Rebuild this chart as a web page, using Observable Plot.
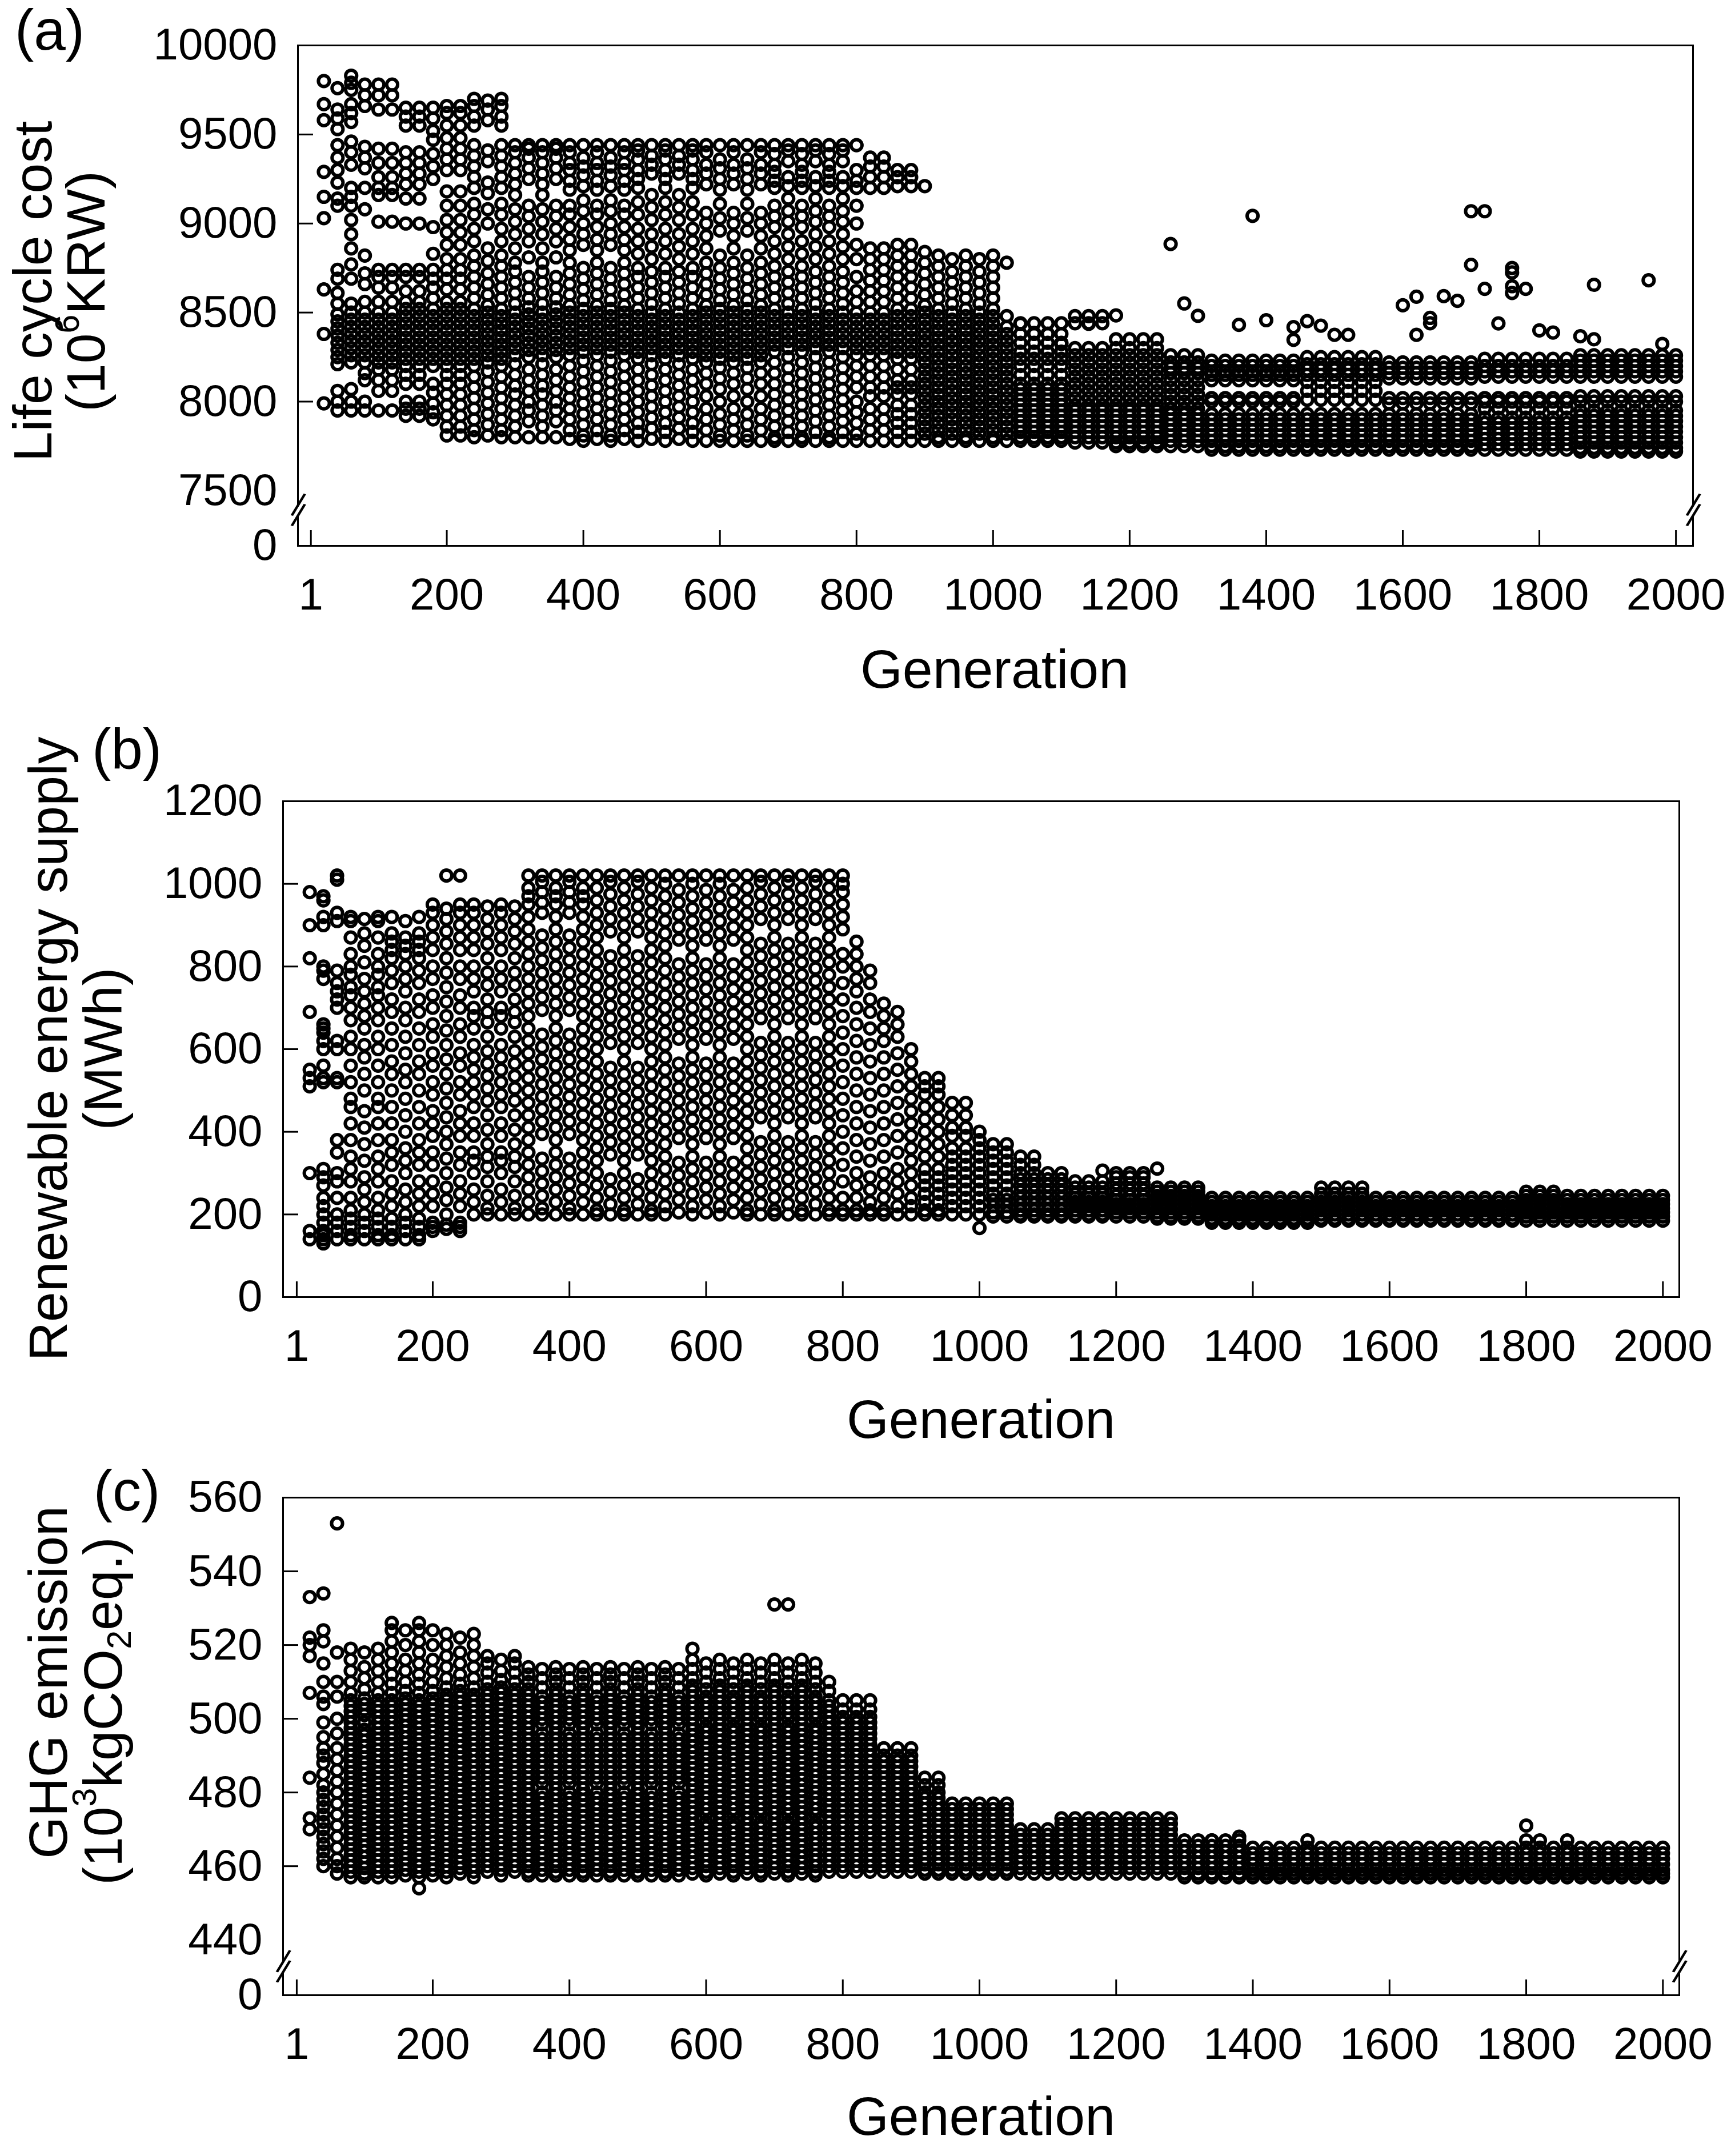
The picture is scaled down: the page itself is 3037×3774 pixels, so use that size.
<!DOCTYPE html>
<html>
<head>
<meta charset="utf-8">
<script src="https://cdn.jsdelivr.net/npm/d3@7"></script>
<script src="https://cdn.jsdelivr.net/npm/@observablehq/plot@0.6"></script>
<style>
  html, body { margin: 0; padding: 0; background: #fff; }
  #wrap { position: relative; width: 3037px; height: 3774px; background: #fff; font-family: 'Liberation Sans', Arial, sans-serif; color: #000; }
  .abs { position: absolute; white-space: nowrap; line-height: 1; }
  .c { transform: translate(-50%, -50%); }
  .rot { transform: translate(-50%, -50%) rotate(-90deg); }
  sup, sub { font-size: 62%; line-height: 0; }
  sup { vertical-align: 0.75em; }
  sub { vertical-align: -0.28em; }
  .svgbox { position: absolute; left: 0; }
</style>
</head>
<body>
<div id="wrap"></div>
<script>
// ---------------- DATA ----------------
const generations = [20,40,60,80,100,120,140,160,180,200,220,240,260,280,300,320,340,360,380,400,
  420,440,460,480,500,520,540,560,580,600,620,640,660,680,700,720,740,760,780,800,
  820,840,860,880,900,920,940,960,980,1000,1020,1040,1060,1080,1100,1120,1140,1160,1180,1200,
  1220,1240,1260,1280,1300,1320,1340,1360,1380,1400,1420,1440,1460,1480,1500,1520,1540,1560,1580,1600,
  1620,1640,1660,1680,1700,1720,1740,1760,1780,1800,1820,1840,1860,1880,1900,1920,1940,1960,1980,2000];

const xTickValues = [1,200,400,600,800,1000,1200,1400,1600,1800,2000];

// Blocks: [first gen, last gen, values] or [[explicit gens], values]
// (a) Life cycle cost
const lccBlocks = [
  [20,20,"9800 9670 9580 9290 9150 9030 8630 8380 7990"],
  [40,40,"9760 9640 9590 9530 9440 9370 9300 9230 9140 9100 8740 8690 8610 8550 8490 8450 8410 8370 8330 8290 8250 8210 8060 8000 7950"],
  [60,60,"9830 9790 9750 9670 9620 9570 9460 9400 9330 9200 9150 9100 9020 8940 8860 8770 8690 8550 8500 8460 8420 8380 8340 8300 8260 8220 8070 8000 7950"],
  [80,80,"9780 9720 9660 9430 9370 9310 9200 9080 8820 8720 8660 8560 8500 8460 8420 8380 8340 8300 8260 8220 8160 8120 8000 7950"],
  [100,120,"9780 9720 9640 9420 9340 9260 9200 9160 9010 8740 8700 8640 8560 8500 8460 8420 8380 8340 8300 8260 8220 8180 8120 8060 7950"],
  [140,160,"9650 9600 9550 9400 9340 9280 9220 9140 9000 8740 8700 8620 8560 8520 8480 8440 8400 8360 8320 8280 8240 8200 8150 8100 8000 7960 7920"],
  [180,180,"9650 9590 9520 9470 9390 9320 9250 8980 8830 8740 8690 8640 8580 8520 8480 8440 8400 8360 8320 8280 8240 8200 8100 8050 7990 7940 7900"],
  [200,220,"9660 9620 9550 9480 9420 9360 9300 9180 9100 9020 8950 8880 8800 8740 8690 8630 8560 8520 8480 8440 8400 8360 8320 8280 8240 8200 8150 8100 8040 7980 7920 7860 7810"],
  [[240,280],"9700 9660 9600 9550 9440 9380 9320 9260 9200 9110 9050 8970 8900 8820 8760 8700 8640 8580 8520 8480 8440 8400 8360 8320 8280 8240 8200 8140 8080 8020 7960 7900 7840 7800"],
  [[260],"9690 9640 9580 9410 9350 9230 9170 9080 9000 8860 8790 8720 8660 8600 8540 8500 8460 8420 8380 8340 8300 8260 8220 8170 8110 8050 7990 7930 7870 7810"],
  [[300,340],"9440 9400 9340 9280 9220 9160 9080 9010 8940 8860 8780 8730 8670 8610 8550 8500 8460 8420 8380 8340 8300 8260 8210 8150 8090 8040 7980 7920 7860 7800"],
  [[320,360],"9440 9420 9370 9310 9250 9100 9040 8970 8900 8810 8700 8640 8580 8530 8490 8450 8410 8370 8330 8290 8250 8180 8120 8060 8000 7950 7890 7800"],
  [[380,420,460],"9440 9400 9340 9300 9240 9190 9100 9050 8980 8910 8850 8780 8720 8660 8600 8540 8500 8460 8420 8380 8340 8300 8260 8200 8140 8080 8020 7960 7900 7840 7790"],
  [[400,440],"9440 9370 9320 9270 9210 9130 9070 9000 8940 8880 8750 8690 8630 8570 8520 8480 8440 8400 8360 8320 8280 8230 8170 8110 8050 7990 7930 7870 7810 7780"],
  [[480,520,560],"9440 9410 9360 9300 9250 9200 9120 9050 8970 8900 8830 8750 8700 8640 8580 8520 8480 8440 8400 8360 8320 8280 8240 8180 8120 8060 8000 7940 7880 7830 7780"],
  [[500,540],"9440 9380 9330 9280 9160 9090 9020 8940 8870 8800 8730 8670 8610 8550 8500 8460 8420 8380 8340 8300 8260 8210 8150 8090 8030 7970 7910 7850 7790"],
  [[580,620,660],"9440 9400 9330 9280 9220 9060 9000 8930 8860 8780 8720 8660 8600 8540 8500 8460 8420 8380 8340 8300 8260 8220 8160 8100 8030 7960 7900 7840 7780"],
  [[600,640],"9440 9360 9310 9250 9190 9110 9030 8960 8820 8750 8690 8630 8570 8520 8480 8440 8400 8360 8320 8280 8240 8190 8130 8070 8000 7930 7870 7810 7780"],
  [[680,720,760],"9440 9390 9330 9290 9240 9200 9100 9040 8980 8900 8830 8760 8700 8640 8580 8520 8480 8440 8400 8360 8320 8280 8220 8160 8100 8040 7980 7920 7860 7800 7780"],
  [[700,740,780],"9440 9410 9350 9260 9210 9140 9070 9010 8940 8870 8800 8730 8670 8610 8550 8500 8460 8420 8380 8340 8300 8250 8190 8130 8070 8010 7950 7890 7830 7780"],
  [800,800,"9440 9300 9240 9200 9100 9000 8880 8800 8700 8620 8560 8500 8460 8420 8380 8340 8300 8260 8200 8140 8080 8000 7940 7880 7820 7780"],
  [820,840,"9370 9320 9260 9200 8860 8800 8740 8680 8620 8560 8500 8460 8420 8380 8340 8300 8260 8200 8140 8080 8030 7960 7900 7840 7780"],
  [860,880,"9300 9260 9210 8880 8820 8760 8700 8640 8580 8520 8480 8440 8400 8360 8320 8280 8240 8180 8120 8080 8040 7980 7930 7880 7830 7780"],
  [900,900,"9210 8840 8780 8720 8660 8600 8540 8500 8460 8420 8380 8340 8300 8260 8220 8180 8140 8100 8060 8020 7980 7940 7900 7860 7820 7780"],
  [[920,960,1000],"8820 8760 8700 8640 8580 8520 8480 8440 8400 8360 8320 8280 8240 8200 8160 8120 8080 8040 8000 7960 7920 7880 7840 7800 7780"],
  [[940,980],"8800 8730 8670 8610 8550 8500 8460 8420 8380 8340 8300 8260 8220 8180 8140 8100 8060 8020 7980 7940 7900 7860 7820 7780"],
  [1020,1020,"8780 8480 8420 8380 8340 8300 8260 8220 8180 8140 8100 8060 8020 7980 7940 7900 7860 7820 7780"],
  [1040,1100,"8440 8380 8330 8280 8240 8200 8150 8100 8070 8040 8010 7980 7950 7920 7890 7860 7830 7800 7780"],
  [1120,1160,"8480 8440 8300 8260 8220 8180 8140 8100 8060 8020 7980 7950 7920 7890 7860 7830 7800 7770"],
  [1180,1240,"8350 8300 8260 8220 8180 8140 8100 8060 8020 7980 7950 7920 7890 7860 7830 7800 7770 7750"],
  [1260,1300,"8260 8220 8190 8160 8120 8080 8040 8000 7960 7930 7900 7870 7840 7810 7780 7750"],
  [1320,1440,"8230 8200 8170 8150 8120 8020 8000 7930 7900 7870 7840 7810 7780 7750 7730"],
  [1460,1560,"8250 8210 8180 8150 8110 8060 8010 7930 7900 7870 7840 7810 7780 7750 7730"],
  [1580,1700,"8220 8190 8160 8130 8020 7990 7930 7900 7870 7840 7810 7780 7750 7730"],
  [1720,1840,"8240 8200 8170 8140 8020 8000 7960 7910 7880 7850 7820 7790 7760 7730"],
  [1860,2000,"8260 8230 8200 8170 8140 8030 8000 7950 7920 7890 7860 7830 7800 7770 7740 7720"]
];
const lccOutlierGen   = [1260,1380,1700,1720,1700,1760,1760,1760,1760,1720,1780,1880,1960,1280,1300,1360,1400,1440,1440,1460,1480,1500,1520,1600,1620,1620,1640,1640,1660,1680,1740,1800,1820,1860,1880,1980,1040,1060,1080,1100,1140,1180];
const lccOutlierValue = [8885,9043,9069,9069,8768,8750,8725,8648,8610,8633,8633,8656,8681,8551,8482,8431,8457,8418,8347,8452,8426,8375,8375,8541,8589,8375,8470,8440,8592,8566,8439,8400,8388,8367,8350,8324,8437,8385,8381,8324,8437,8484];
const lccAxisValues = [7190,7500,8000,8500,9000,9500,10000];
const lccAxisLabels = ["0","7500","8000","8500","9000","9500","10000"];
const lccTickValues = [8000,8500,9000,9500];
const lccBreak = [7385];

// (b) Renewable energy supply
const resBlocks = [
  [20,20,"980 900 820 690 550 530 510 300 160 140"],
  [40,40,"970 960 920 900 800 790 770 660 650 640 620 600 560 530 520 310 290 270 240 220 200 180 160 150 140 130"],
  [60,60,"930 910 790 760 740 720 700 620 600 530 520 380 350 300 280 240 200 180 160 140"],
  [[80,120],"920 910 870 830 800 780 750 730 700 670 630 600 560 520 480 460 420 380 340 310 280 240 210 190 170 150 140"],
  [[100],"915 880 850 810 770 740 710 680 650 610 580 540 500 450 410 370 330 290 260 230 200 180 160 140"],
  [[140,180],"920 880 860 840 820 790 760 720 690 650 610 570 540 500 460 420 380 350 320 280 250 220 190 170 150 140"],
  [[160],"910 870 850 830 800 770 740 700 670 630 590 550 520 480 440 400 360 330 300 260 230 200 180 160 140"],
  [[200,240],"950 930 900 870 840 800 770 730 700 660 630 590 560 520 490 450 420 390 350 320 280 250 220 180 170 160"],
  [[220],"940 915 885 855 820 785 750 715 680 645 610 575 540 505 470 435 400 370 335 300 265 235 200 175 165"],
  [[260,300],"950 930 900 870 840 800 770 740 700 680 650 610 580 550 520 490 460 420 390 350 330 300 260 230 200"],
  [[280,320],"945 915 885 855 820 785 755 720 690 665 630 595 565 535 505 475 440 405 370 340 315 280 245 215 200"],
  [[340,380,420],"1020 990 970 950 920 890 860 830 800 770 740 710 680 650 620 590 560 530 500 470 440 410 380 350 320 290 260 230 200"],
  [[360,400],"1020 1005 980 955 930 875 845 815 785 755 725 695 635 605 575 545 515 485 455 425 395 335 305 275 245 215 200"],
  [[440,480,520],"1020 990 960 930 900 870 840 810 780 750 720 690 660 630 600 570 540 510 480 450 420 390 360 330 300 270 240 210 200"],
  [[460,500],"1020 1005 975 945 915 885 825 795 765 735 705 675 645 615 555 525 495 465 435 405 375 345 285 255 225 200"],
  [[540,580,620],"1020 1000 970 940 910 880 850 820 790 760 730 700 670 640 610 580 550 520 490 460 430 400 370 340 310 280 250 220 200"],
  [[560,600,640],"1020 985 955 925 895 865 805 775 745 715 685 655 625 565 535 505 475 445 415 385 325 295 265 235 205"],
  [[660,700,740,780],"1020 990 960 930 900 870 840 810 780 750 720 690 660 630 600 570 540 510 480 450 420 390 360 330 300 270 240 210 200"],
  [[680,720,760],"1020 1005 975 945 915 855 825 795 765 735 705 675 615 585 555 525 495 465 435 375 345 315 285 255 225 200"],
  [800,800,"1020 1000 980 950 920 890 830 800 760 720 680 640 600 560 520 480 440 400 360 320 280 240 210 200"],
  [820,820,"860 830 800 770 740 700 660 620 580 540 500 460 420 380 340 300 270 240 210 200"],
  [840,840,"790 760 720 690 650 610 570 530 490 450 410 370 330 290 260 230 210 200"],
  [860,860,"710 680 650 620 580 540 500 460 420 380 340 300 270 240 210 200"],
  [880,880,"690 660 630 590 550 510 470 430 390 350 310 280 250 220 200"],
  [900,900,"600 570 540 510 480 450 420 390 360 330 300 270 240 220 200"],
  [920,940,"530 510 490 460 430 400 370 340 310 290 270 250 230 210 200"],
  [960,980,"470 440 410 390 360 340 320 300 280 260 240 220 200"],
  [1000,1000,"400 380 360 340 320 300 280 260 240 220 200"],
  [1020,1040,"370 350 330 310 290 270 250 235 220 205 195"],
  [1060,1080,"340 320 300 285 270 255 240 225 210 200 195"],
  [1100,1120,"300 285 270 255 240 225 210 200 195"],
  [1140,1180,"280 265 250 240 230 220 210 200 195"],
  [1200,1240,"300 290 275 260 245 235 225 215 205 195"],
  [1260,1320,"265 255 245 235 225 215 205 195 190"],
  [1340,1480,"240 230 220 210 200 190 185 180"],
  [1500,1560,"265 250 240 230 220 210 200 190 185"],
  [1580,1780,"240 230 220 210 200 190 185"],
  [1800,1840,"255 245 235 225 215 205 195 185"],
  [1860,2000,"245 235 225 215 205 195 185"]
];
const resOutlierGen   = [60,60,220,240,1000,1180,1260];
const resOutlierValue = [1010,1020,1020,1020,167,306,311];
const resAxisValues = [0,200,400,600,800,1000,1200];
const resAxisLabels = ["0","200","400","600","800","1000","1200"];
const resTickValues = [200,400,600,800,1000];

// (c) GHG emission
const ghgBlocks = [
  [20,20,"533 522 520 517 507 484 473 470"],
  [40,40,"524 521 515 510 506 504 499 495 492 490 488 485 482 480 478 476 474 472 470 468 466 464 462 460"],
  [60,60,"518 510 506 500 496 492 489 486 483 480 477 474 471 468 465 462 460 458"],
  [[80,120],"519 516 513 510 507 505 503.5 502 500.5 499 497.5 496 494.5 493 491.5 490 488.5 487 485.5 484 482.5 481 479.5 478 476.5 475 473.5 472 470.5 469 467.5 466 464.5 463 461.5 460 458.5 457"],
  [[100],"518 514 511 508 505.5 504 502.5 501 499 497 495.5 494 492.5 491 489.5 488 486.5 485 483.5 482 480.5 479 477.5 476 474.5 473 471.5 470 468.5 467 465.5 464 462.5 461 459.5 458 457"],
  [[140,180],"526 524 521 518 515 512 509.5 507 505 503.5 502 500.5 499 497.5 496 494.5 493 491.5 490 488.5 487 485.5 484 482.5 481 479.5 478 476.5 475 473.5 472 470.5 469 467.5 466 464.5 463 461.5 460 458.5 457"],
  [[160,200],"524 520 516 513 510 507.5 505.5 504 502.5 501 499.5 498 496.5 495 493.5 492 490.5 489 487.5 486 484.5 483 481.5 480 478.5 477 475.5 474 472.5 471 469.5 468 466.5 465 463.5 462 460.5 459 457.5"],
  [[220,260],"523 520 517 514 511 508.5 506.5 505 503.5 502 500.5 499 497.5 496 494.5 493 491.5 490 488.5 487 485.5 484 482.5 481 479.5 478 476.5 475 473.5 472 470.5 469 467.5 466 464.5 463 461.5 460 458.5 457"],
  [[240],"522 518 515 512 509.5 507.5 506 504.5 503 501.5 500 498.5 497 495.5 494 492.5 491 489.5 488 486.5 485 483.5 482 480.5 479 477.5 476 474.5 473 471.5 470 468.5 467 465.5 464 462.5 461 459.5 458"],
  [[280,320],"517 515 512.5 510 508 506.5 505 503.5 502 500.5 499 497.5 496 494.5 493 491.5 490 488.5 487 485.5 484 482.5 481 479.5 478 476.5 475 473.5 472 470.5 469 467.5 466 464.5 463 461.5 460 458.5"],
  [[300],"516 513 510.5 508.5 507 505.5 504 502.5 501 499.5 498 496.5 495 493.5 492 490.5 489 487.5 486 484.5 483 481.5 480 478.5 477 475.5 474 472.5 471 469.5 468 466.5 465 463.5 462 460.5 459 457.5"],
  [[340,380,420,460,500,540],"514 512 510 508 506.5 505 503.5 502 500.5 499 497.5 496 494.5 493 491.5 490 488.5 487 485.5 484 482.5 481 479.5 478 476.5 475 473.5 472 470.5 469 467.5 466 464.5 463 461.5 460 458.5 457.5"],
  [[360,400,440,480,520,560],"513.5 511 508.5 506 504.5 503 501.5 500 498.5 496 494.5 493 491.5 490 488.5 487 485.5 484 482.5 480 478.5 477 475.5 474 472.5 471 469.5 468 466.5 465 463.5 462 460.5 459 457.5"],
  [[580,620,660,700,740],"516 513.5 511 509 507.5 506 504.5 503 501.5 500 498.5 497 495.5 494 492.5 491 489.5 488 486.5 485 483.5 482 480.5 479 477.5 476 474.5 473 471.5 470 468.5 467 465.5 464 462.5 461 459.5 458"],
  [[600,640,680,720,760],"515 512.5 510 508 506 504.5 503 501.5 500 498 496.5 495 493.5 492 490.5 489 487.5 486 484.5 483 481.5 480 478.5 477 475.5 474 472 470.5 469 467.5 466 464.5 463 461.5 460 458.5 457.5"],
  [780,780,"510 507.5 505 503.5 502 500.5 499 497.5 496 494.5 493 491.5 490 488.5 487 485.5 484 482.5 481 479.5 478 476.5 475 473.5 472 470.5 469 467.5 466 464.5 463 461.5 460 458.5"],
  [800,840,"505 502.5 500.5 499 497.5 496 494.5 493 491.5 490 488.5 487 485.5 484 482.5 481 479.5 478 476.5 475 473.5 472 470.5 469 467.5 466 464.5 463 461.5 460 458.5"],
  [860,900,"492 490 488.5 487 485.5 484 482.5 481 479.5 478 476.5 475 473.5 472 470.5 469 467.5 466 464.5 463 461.5 460 458.5"],
  [920,940,"484 482 480 478.5 477 475.5 474 472.5 471 469.5 468 466.5 465 463.5 462 460.5 459 458"],
  [960,1040,"477 475.5 474 472.5 471 469.5 468 466.5 465 463.5 462 460.5 459 458"],
  [1060,1100,"470 468.5 467 465.5 464 462.5 461 459.5 458"],
  [1120,1280,"473 471.5 470 468.5 467 465.5 464 462.5 461 459.5 458"],
  [1300,1380,"467 465.5 464 462.5 461 459.5 458 457"],
  [1400,2000,"465 463.5 462 460.5 459 458 457"]
];
const ghgOutlierGen   = [60,40,700,720,580,1340,1380,1480,1800,1800,1820,1860,180];
const ghgOutlierValue = [553,534,531,531,519,467,468,467,471,467,467,467,454];
const ghgAxisValues = [425,440,460,480,500,520,540,560];
const ghgAxisLabels = ["0","440","460","480","500","520","540","560"];
const ghgTickValues = [460,480,500,520,540];
const ghgBreak = [432.5];

// ---------------- BUILD ----------------
function expand(blocks, outGen, outVal) {
  const pts = [];
  for (const b of blocks) {
    let gens, levels;
    if (Array.isArray(b[0])) { gens = b[0]; levels = b[1]; }
    else { gens = generations.filter(g => g >= b[0] && g <= b[1]); levels = b[2]; }
    const vals = levels.trim().split(/\s+/).map(Number);
    for (const g of gens) for (const v of vals) pts.push({gen: g, value: v});
  }
  outGen.forEach((g, i) => pts.push({gen: g, value: outVal[i]}));
  return pts;
}

const FONT = "'Liberation Sans', Arial, sans-serif";
const wrap = document.getElementById("wrap");

function panel(cfg) {
  const frameW = 3037 - cfg.marginLeft - cfg.marginRight;
  const frameH = cfg.frameH;
  const height = cfg.marginTop + frameH + cfg.marginBottom;
  const labelMap = new Map(cfg.axisValues.map((v, i) => [v, cfg.axisLabels[i]]));
  const marks = [
    Plot.dot(cfg.points, {x: "gen", y: "value", r: 9.6, stroke: "black", strokeWidth: 6, fill: "none"}),
    Plot.frame({stroke: "black", strokeWidth: 3}),
    Plot.tickX(xTickValues, {x: d => d, insetTop: frameH - 27, stroke: "black", strokeWidth: 3}),
    Plot.tickY(cfg.tickValues, {y: d => d, insetRight: frameW - 27, stroke: "black", strokeWidth: 3}),
    Plot.axisX({ticks: xTickValues, tickSize: 0, tickPadding: 56, tickFormat: d => String(d), label: null}),
    Plot.axisY({ticks: cfg.axisValues, tickSize: 0, tickPadding: 36, tickFormat: d => labelMap.get(d), label: null})
  ];
  if (cfg.breaks) {
    for (const xb of cfg.xDomain) {
      marks.push(Plot.dot(cfg.breaks, {x: () => xb, y: d => d, symbol: "square", r: 9, fill: "white", stroke: null}));
      marks.push(Plot.text(cfg.breaks, {x: () => xb, y: d => d, text: () => "/", fontSize: 58, rotate: 16, dy: -9, fill: "black"}));
      marks.push(Plot.text(cfg.breaks, {x: () => xb, y: d => d, text: () => "/", fontSize: 58, rotate: 16, dy: 9, fill: "black"}));
    }
  }
  const svg = Plot.plot({
    width: 3037,
    height,
    marginTop: cfg.marginTop,
    marginBottom: cfg.marginBottom,
    marginLeft: cfg.marginLeft,
    marginRight: cfg.marginRight,
    x: {domain: cfg.xDomain, label: null},
    y: {domain: cfg.yDomain, label: null},
    style: {fontFamily: FONT, fontSize: "78px", color: "black", background: "transparent", overflow: "visible"},
    marks
  });
  svg.classList.add("svgbox");
  svg.style.top = cfg.top + "px";
  wrap.appendChild(svg);
}

panel({
  points: expand(lccBlocks, lccOutlierGen, lccOutlierValue),
  axisValues: lccAxisValues, axisLabels: lccAxisLabels, tickValues: lccTickValues, breaks: lccBreak,
  xDomain: [-18, 2025], yDomain: [7190, 10000],
  top: 0, marginTop: 79, frameH: 876, marginBottom: 150, marginLeft: 521, marginRight: 74
});
panel({
  points: expand(resBlocks, resOutlierGen, resOutlierValue),
  axisValues: resAxisValues, axisLabels: resAxisLabels, tickValues: resTickValues, breaks: null,
  xDomain: [-19, 2024], yDomain: [0, 1200],
  top: 1322, marginTop: 80, frameH: 868, marginBottom: 150, marginLeft: 495, marginRight: 98
});
panel({
  points: expand(ghgBlocks, ghgOutlierGen, ghgOutlierValue),
  axisValues: ghgAxisValues, axisLabels: ghgAxisLabels, tickValues: ghgTickValues, breaks: ghgBreak,
  xDomain: [-19, 2024], yDomain: [425, 560],
  top: 2541, marginTop: 80, frameH: 871, marginBottom: 150, marginLeft: 495, marginRight: 98
});

// ---------------- TEXT ----------------
function addText(html, x, y, size, cls) {
  const d = document.createElement("div");
  d.className = "abs " + cls;
  d.style.left = x + "px";
  d.style.top = y + "px";
  d.style.fontSize = size + "px";
  d.innerHTML = html;
  wrap.appendChild(d);
}
addText("(a)", 87, 52, 100, "c");
addText("(b)", 222, 1311, 100, "c");
addText("(c)", 222, 2609, 100, "c");
addText("Generation", 1741, 1171, 95, "c");
addText("Generation", 1717, 2484, 95, "c");
addText("Generation", 1717, 3704, 95, "c");
addText("Life cycle cost", 57, 510, 95, "rot");
addText("(10<sup>6</sup>KRW)", 150, 510, 95, "rot");
addText("Renewable energy supply", 84, 1836, 95, "rot");
addText("(MWh)", 180, 1836, 95, "rot");
addText("GHG emission", 84, 2945, 95, "rot");
addText("(10<sup>3</sup>kgCO<sub>2</sub>eq.)", 180, 2995, 95, "rot");
</script>
</body>
</html>
